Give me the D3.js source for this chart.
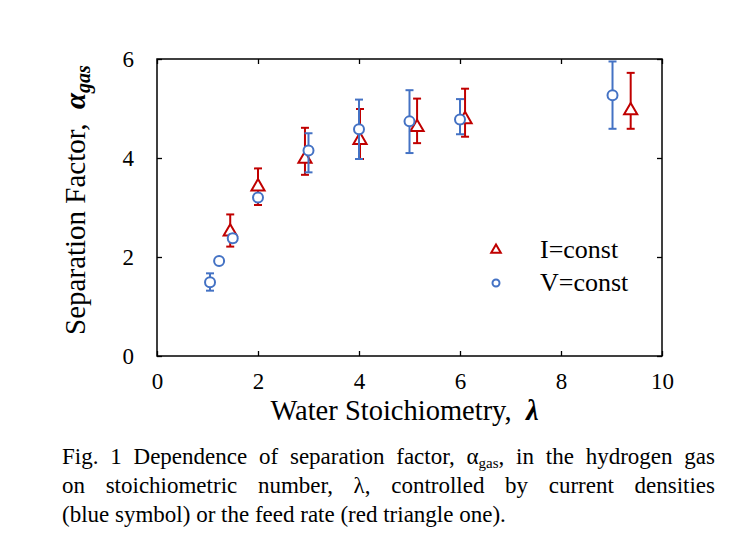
<!DOCTYPE html>
<html>
<head>
<meta charset="utf-8">
<script src="https://cdn.jsdelivr.net/npm/d3@7"></script>
<style>
  body { margin: 0; background: #fff; }
</style>
</head>
<body>
<div id="chart-area"></div>
<script>
// V=const (blue circles)
const vX = [1.05, 1.23, 1.5, 2.0, 3.0, 4.0, 5.0, 6.0, 9.02]
const vY = [1.49, 1.92, 2.38, 3.2, 4.15, 4.58, 4.74, 4.78, 5.27]
const vErrUp = [0.18, 0.05, 0.08, 0.03, 0.35, 0.6, 0.63, 0.41, 0.68]
const vErrDown = [0.17, 0.05, 0.08, 0.03, 0.44, 0.6, 0.64, 0.3, 0.68]

// I=const (red triangles)
const iX = [1.45, 2.0, 2.93, 4.02, 5.15, 6.1, 9.38]
const iY = [2.51, 3.42, 3.98, 4.36, 4.62, 4.78, 4.96]
const iErrUp = [0.35, 0.37, 0.63, 0.63, 0.58, 0.62, 0.76]
const iErrDown = [0.3, 0.37, 0.32, 0.38, 0.32, 0.35, 0.37]

const xTicks = [0, 2, 4, 6, 8, 10]
const yTicks = [0, 2, 4, 6]

const captionLines = [
    "Fig. 1 Dependence of separation factor, α|gas|, in the hydrogen gas",
    "on stoichiometric number, λ, controlled by current densities",
    "(blue symbol) or the feed rate (red triangle one)."
]

const BLUE = "#4472c4"
const RED = "#c00000"
const FONT = "Liberation Serif"

const MARGIN = { LEFT: 157, TOP: 59 }
const WIDTH = 505
const HEIGHT = 297

const svg = d3.select("#chart-area").append("svg")
    .attr("width", 755)
    .attr("height", 547)
    .attr("font-family", FONT)

const g = svg.append("g")
    .attr("transform", `translate(${MARGIN.LEFT}, ${MARGIN.TOP})`)

// scales
const x = d3.scaleLinear().domain([0, 10]).range([0, WIDTH])
const y = d3.scaleLinear().domain([0, 6]).range([HEIGHT, 0])

// axes, ticks pointing inwards on all four sides
const styleAxis = sel => {
    sel.attr("font-family", FONT)
    sel.select(".domain").remove()
    sel.selectAll(".tick line").attr("stroke", "#000").attr("stroke-width", 1.3)
    sel.selectAll(".tick text").attr("font-size", "23px").attr("fill", "#000")
}

g.append("g")
    .attr("transform", `translate(0, ${HEIGHT})`)
    .call(d3.axisBottom(x).tickValues(xTicks).tickFormat(d3.format("d"))
        .tickSize(-5).tickPadding(17).tickSizeOuter(0))
    .call(styleAxis)
g.append("g")
    .call(d3.axisLeft(y).tickValues(yTicks).tickFormat(d3.format("d"))
        .tickSize(-5).tickPadding(23).tickSizeOuter(0))
    .call(styleAxis)
g.append("g")
    .call(d3.axisTop(x).tickValues(xTicks).tickSize(-5).tickFormat("").tickSizeOuter(0))
    .call(styleAxis)
g.append("g")
    .attr("transform", `translate(${WIDTH}, 0)`)
    .call(d3.axisRight(y).tickValues(yTicks).tickSize(-5).tickFormat("").tickSizeOuter(0))
    .call(styleAxis)

// frame
g.append("rect")
    .attr("width", WIDTH)
    .attr("height", HEIGHT)
    .attr("fill", "none")
    .attr("stroke", "#000")
    .attr("stroke-width", 1.5)

// axis labels (two spaces before the symbol, kept with nbsp)
g.append("text")
    .attr("x", WIDTH / 2 - 5)
    .attr("y", HEIGHT + 64)
    .attr("font-size", "28.5px")
    .attr("text-anchor", "middle")
    .call(t => {
        t.append("tspan").text("Water Stoichiometry,\u00a0\u00a0")
        t.append("tspan").attr("font-weight", "bold").attr("font-style", "italic").text("λ")
    })

g.append("text")
    .attr("transform", `translate(-72, 141) rotate(-90)`)
    .attr("font-size", "29px")
    .attr("text-anchor", "middle")
    .call(t => {
        t.append("tspan").text("Separation Factor,\u00a0\u00a0")
        t.append("tspan").attr("font-weight", "bold").attr("font-style", "italic").text("α")
        t.append("tspan").attr("font-weight", "bold").attr("font-style", "italic")
            .attr("font-size", "20px").attr("dy", 5).text("gas")
    })

// series
const vData = vX.map((d, i) => ({ x: d, y: vY[i], up: vErrUp[i], down: vErrDown[i] }))
const iData = iX.map((d, i) => ({ x: d, y: iY[i], up: iErrUp[i], down: iErrDown[i] }))

const triangle = d3.symbol().type(d3.symbolTriangle).size(75)

function drawSeries(data, color, marker) {
    const s = g.append("g")
    const bars = s.selectAll(".err").data(data).enter().append("g")
        .attr("stroke", color).attr("stroke-width", 2)
    bars.append("line")
        .attr("x1", d => x(d.x)).attr("x2", d => x(d.x))
        .attr("y1", d => y(d.y + d.up)).attr("y2", d => y(d.y - d.down))
    bars.append("line")
        .attr("x1", d => x(d.x) - 4).attr("x2", d => x(d.x) + 4)
        .attr("y1", d => y(d.y + d.up)).attr("y2", d => y(d.y + d.up))
    bars.append("line")
        .attr("x1", d => x(d.x) - 4).attr("x2", d => x(d.x) + 4)
        .attr("y1", d => y(d.y - d.down)).attr("y2", d => y(d.y - d.down))

    if (marker === "circle") {
        s.selectAll("circle").data(data).enter().append("circle")
            .attr("cx", d => x(d.x)).attr("cy", d => y(d.y)).attr("r", 5)
            .attr("fill", "#fff").attr("stroke", color).attr("stroke-width", 2)
    } else {
        s.selectAll("path.mk").data(data).enter().append("path")
            .attr("class", "mk")
            .attr("d", triangle)
            .attr("transform", d => `translate(${x(d.x)}, ${y(d.y)})`)
            .attr("fill", "#fff").attr("stroke", color).attr("stroke-width", 2)
    }
}

drawSeries(iData, RED, "triangle")
drawSeries(vData, BLUE, "circle")

// legend
const legend = g.append("g").attr("transform", `translate(339, 191)`)
legend.append("path")
    .attr("d", d3.symbol().type(d3.symbolTriangle).size(40))
    .attr("fill", "#fff").attr("stroke", RED).attr("stroke-width", 2)
legend.append("text").attr("x", 44).attr("y", 8).attr("font-size", "26px").text("I=const")
legend.append("circle")
    .attr("cy", 33).attr("r", 3.5)
    .attr("fill", "#fff").attr("stroke", BLUE).attr("stroke-width", 2)
legend.append("text").attr("x", 44).attr("y", 41).attr("font-size", "26px").text("V=const")

// caption, first two lines justified
const CAP_LEFT = 62, CAP_RIGHT = 715
captionLines.forEach((line, i) => {
    const t = svg.append("text")
        .attr("x", CAP_LEFT)
        .attr("y", 464 + i * 29)
        .attr("font-size", "23px")
    line.split("|").forEach((part, k) => {
        if (k === 1) {
            t.append("tspan").attr("font-size", "15px").attr("dy", 4).text(part)
        } else if (k === 2) {
            t.append("tspan").attr("dy", -4).text(part)
        } else {
            t.append("tspan").text(part)
        }
    })
    if (i < 2) {
        const natural = t.node().getComputedTextLength()
        const spaces = (line.match(/ /g) || []).length
        t.attr("word-spacing", (CAP_RIGHT - CAP_LEFT - natural) / spaces)
    }
})
</script>
</body>
</html>
